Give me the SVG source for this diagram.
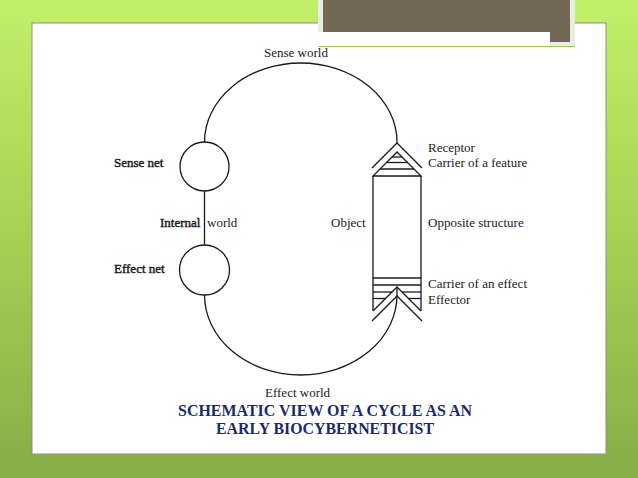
<svg xmlns="http://www.w3.org/2000/svg" width="638" height="478" viewBox="0 0 638 478">
<defs>
<linearGradient id="bg" x1="0" y1="0" x2="0" y2="1">
<stop offset="0" stop-color="#c2ef6a"/>
<stop offset="0.5" stop-color="#a6d052"/>
<stop offset="1" stop-color="#86ad48"/>
</linearGradient>
<style>
.ln{fill:none;stroke:#1a1a1a;stroke-width:1.3}
.t{font-family:"Liberation Serif","Times New Roman",serif;font-size:13px;fill:#1a1a1a}
.b{stroke:#1a1a1a;stroke-width:0.45}
.cap{font-family:"Liberation Serif","Times New Roman",serif;font-size:15.7px;font-weight:bold;fill:#1c2b68}
</style>
</defs>
<rect x="0" y="0" width="638" height="478" fill="url(#bg)"/>
<rect x="32" y="23" width="574" height="431" fill="#ffffff" stroke="#8c8f80" stroke-width="1"/>
<rect x="318" y="0" width="257" height="46" fill="#e9eee2"/>
<rect x="323" y="0" width="247" height="42" fill="#736856"/>
<rect x="318" y="32" width="232" height="14" fill="#ffffff"/>
<line x1="318" y1="46.5" x2="575" y2="46.5" stroke="#9cc45a" stroke-width="1"/>

<g id="connectors">
<path class="ln" d="M204.5,142 A96.25,79 0 0 1 397,142 L397,143"/>
<line class="ln" x1="204.5" y1="191" x2="204.5" y2="245"/>
<path class="ln" d="M204.5,295 A96.25,80 0 0 0 397,295 L397,287"/>
</g>

<g id="sense-world"><text class="t" x="264" y="57">Sense world</text></g>
<g id="sense-net">
<circle class="ln" cx="204.5" cy="166.5" r="24.5"/>
<text class="t b" x="114" y="167">Sense net</text>
</g>
<g id="internal-world">
<text class="t b" x="160" y="227">Internal</text>
<text class="t" x="207" y="227">world</text>
</g>
<g id="effect-net">
<circle class="ln" cx="204.5" cy="270" r="25"/>
<text class="t b" x="114" y="273">Effect net</text>
</g>
<g id="effect-world"><text class="t" x="265" y="397">Effect world</text></g>

<g id="object">
<polyline class="ln" points="372,168 397,143 422,168"/>
<polygon class="ln" points="397,152 373,176 421,176"/>
<line class="ln" x1="392" y1="157" x2="402" y2="157"/>
<line class="ln" x1="386.5" y1="162.5" x2="407.5" y2="162.5"/>
<line class="ln" x1="380" y1="169" x2="414" y2="169"/>
<line class="ln" x1="373" y1="176" x2="373" y2="311"/>
<line class="ln" x1="421" y1="176" x2="421" y2="311"/>
<line class="ln" x1="373" y1="278" x2="421" y2="278"/>
<line class="ln" x1="373" y1="285" x2="421" y2="285"/>
<line class="ln" x1="373" y1="292" x2="392" y2="292"/>
<line class="ln" x1="402" y1="292" x2="421" y2="292"/>
<line class="ln" x1="373" y1="298.5" x2="385.5" y2="298.5"/>
<line class="ln" x1="408.5" y1="298.5" x2="421" y2="298.5"/>
<polyline class="ln" points="373,311 397,287 421,311"/>
<polyline class="ln" points="372,321 397,296 422,321"/>
<text class="t" x="331" y="227">Object</text>
<text class="t" x="428" y="152">Receptor</text>
<text class="t" x="428" y="167">Carrier of a feature</text>
<text class="t" x="428" y="227">Opposite structure</text>
<text class="t" x="428" y="288">Carrier of an effect</text>
<text class="t" x="428" y="304">Effector</text>
</g>

<g id="caption">
<text class="cap" x="178" y="416" textLength="294" lengthAdjust="spacingAndGlyphs">SCHEMATIC VIEW OF A CYCLE AS AN</text>
<text class="cap" x="216" y="434" textLength="218" lengthAdjust="spacingAndGlyphs">EARLY BIOCYBERNETICIST</text>
</g>
</svg>
